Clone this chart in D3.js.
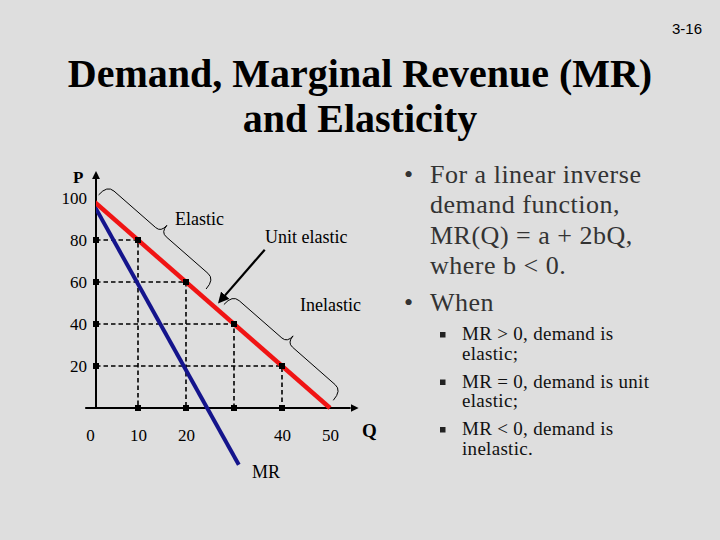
<!DOCTYPE html>
<html>
<head>
<meta charset="utf-8">
<script src="https://cdn.jsdelivr.net/npm/d3@7"></script>
<style>
  html, body { margin: 0; padding: 0; background: #dedede; }
  svg { display: block; }
</style>
</head>
<body>
<div id="wrapper"></div>
<script>
// ---- data ----
const demandQ = [0, 50];
const demandP = [100, 0];
const mrQ = [0, 31];
const mrP = [100, -27];
const guideQ = [10, 20, 30, 40];
const guideP = [80, 60, 40, 20];
const yTickLabels = [100, 80, 60, 40, 20];
const xTickLabels = [0, 10, 20, 40, 50];
const braceNames = ['Elastic', 'Inelastic'];
const braceFrom = [0.7, 26.8];
const braceTo = [23.1, 49.6];
const unitQ = 26;

const mainBullets = [
  ['For a linear inverse', 'demand function,', 'MR(Q) = a + 2bQ,', 'where b < 0.'],
  ['When']
];
const subBullets = [
  ['MR > 0, demand is', 'elastic;'],
  ['MR = 0, demand is unit', 'elastic;'],
  ['MR < 0, demand is', 'inelastic.']
];

const width = 720, height = 540;
const serif = '"Liberation Serif", "Times New Roman", serif';

let svg = d3.select('#wrapper').append('svg')
  .attr('width', width).attr('height', height);

svg.append('rect').attr('width', width).attr('height', height).attr('fill', '#dedede');

// arrow heads
let defs = svg.append('defs');
defs.append('marker').attr('id', 'tri')
  .attr('viewBox', '0 0 10 10').attr('refX', 0).attr('refY', 5)
  .attr('markerWidth', 4).attr('markerHeight', 4).attr('orient', 'auto')
  .attr('markerUnits', 'strokeWidth')
  .append('path').attr('d', 'M0,0 L10,5 L0,10 z').attr('fill', '#000');
defs.append('marker').attr('id', 'tri2')
  .attr('viewBox', '0 0 10 10').attr('refX', 2).attr('refY', 5)
  .attr('markerWidth', 5).attr('markerHeight', 5).attr('orient', 'auto')
  .attr('markerUnits', 'strokeWidth')
  .append('path').attr('d', 'M0,0 L10,5 L0,10 z').attr('fill', '#000');

// ---- header ----
svg.append('text').text('3-16')
  .attr('x', 702).attr('y', 34).attr('text-anchor', 'end')
  .style('font-family', '"Liberation Sans", Arial, sans-serif').style('font-size', '15px');

let title = svg.append('g').attr('text-anchor', 'middle')
  .style('font-family', serif).style('font-weight', 'bold').style('font-size', '40px');
title.append('text').attr('x', 360).attr('y', 87).text('Demand, Marginal Revenue (MR)');
title.append('text').attr('x', 360).attr('y', 132).text('and Elasticity');

// ---- scales ----
let xScale = d3.scaleLinear().domain([0, 50]).range([90, 330]);
let yScale = d3.scaleLinear().domain([0, 100]).range([408, 198]);
let axisX = xScale(0) + 6;

let chart = svg.append('g').classed('chart', true);

// clip so the curves start at the drawn vertical axis
defs.append('clipPath').attr('id', 'plotclip')
  .append('rect').attr('x', axisX).attr('y', 150).attr('width', 300).attr('height', 340);

// dashed guides
let guides = guideQ.map((q, i) => ({q: q, p: guideP[i]}));
chart.selectAll('.guide').data(guides).enter().append('path')
  .classed('guide', true)
  .attr('d', d => 'M' + axisX + ',' + yScale(d.p) + 'H' + xScale(d.q) + 'V' + yScale(0))
  .attr('fill', 'none').attr('stroke', '#000').attr('stroke-width', 1.6)
  .attr('stroke-dasharray', '4.5,3');

// axes lines
chart.append('line')
  .attr('x1', xScale(-1)).attr('x2', xScale(54.3))
  .attr('y1', yScale(0)).attr('y2', yScale(0))
  .attr('stroke', '#000').attr('stroke-width', 2).attr('marker-end', 'url(#tri)');
chart.append('line')
  .attr('x1', axisX).attr('x2', axisX)
  .attr('y1', yScale(0) + 1).attr('y2', yScale(109))
  .attr('stroke', '#000').attr('stroke-width', 2).attr('marker-end', 'url(#tri)');

// tick labels through d3 axes
let yAxis = d3.axisLeft(yScale).tickValues(yTickLabels).tickSize(0).tickPadding(9);
let yG = chart.append('g').attr('transform', 'translate(' + axisX + ',0)').call(yAxis);
let xAxis = d3.axisBottom(xScale).tickValues(xTickLabels).tickSize(0).tickPadding(21);
let xG = chart.append('g').attr('transform', 'translate(0,' + yScale(0) + ')').call(xAxis);
[yG, xG].forEach(g => {
  g.select('.domain').remove();
  g.attr('font-family', null).attr('font-size', null);
  g.selectAll('text').style('font-family', serif).style('font-size', '17px').attr('fill', '#000');
});

chart.append('text').text('P').attr('x', 73).attr('y', 183)
  .style('font-family', serif).style('font-weight', 'bold').style('font-size', '17px');
chart.append('text').text('Q').attr('x', 362).attr('y', 437)
  .style('font-family', serif).style('font-weight', 'bold').style('font-size', '19px');

// curves
let line = d3.line().x(d => xScale(d[0])).y(d => yScale(d[1]));
let curves = chart.append('g').attr('clip-path', 'url(#plotclip)');
curves.append('path').datum(mrQ.map((q, i) => [q, mrP[i]]))
  .attr('d', line).attr('fill', 'none').attr('stroke', '#14148c').attr('stroke-width', 4);
curves.append('path').datum(demandQ.map((q, i) => [q, demandP[i]]))
  .attr('d', line).attr('fill', 'none').attr('stroke', '#f01414').attr('stroke-width', 4.5);

// square markers
let sq = 6;
let marks = [];
guides.forEach(d => {
  marks.push([axisX, yScale(d.p)]);
  marks.push([xScale(d.q), yScale(d.p)]);
  marks.push([xScale(d.q), yScale(0)]);
});
chart.selectAll('.mark').data(marks).enter().append('rect').classed('mark', true)
  .attr('x', d => d[0] - sq / 2).attr('y', d => d[1] - sq / 2)
  .attr('width', sq).attr('height', sq).attr('fill', '#000');

// curly braces along the demand curve
let demandAt = q => 100 - 2 * q;
let p0 = [xScale(0), yScale(100)], p1 = [xScale(50), yScale(0)];
let len = Math.hypot(p1[0] - p0[0], p1[1] - p0[1]);
let u = [(p1[0] - p0[0]) / len, (p1[1] - p0[1]) / len];
let n = [u[1], -u[0]];

function bracePath(qa, qb) {
  let base = 8, w = 22, h = 13, r = 9, rt = 7;
  let a = [xScale(qa), yScale(demandAt(qa))];
  let b = [xScale(qb), yScale(demandAt(qb))];
  let L = Math.hypot(b[0] - a[0], b[1] - a[1]);
  let pt = (s, t) => (a[0] + s * u[0] + (t + base) * n[0]).toFixed(1) + ',' +
                     (a[1] + s * u[1] + (t + base) * n[1]).toFixed(1);
  let m = L / 2;
  return 'M' + pt(0, 0) + 'Q' + pt(0, h) + ' ' + pt(r, h) +
    'L' + pt(m - rt, h) + 'Q' + pt(m, h) + ' ' + pt(m, w) +
    'M' + pt(L, 0) + 'Q' + pt(L, h) + ' ' + pt(L - r, h) +
    'L' + pt(m + rt, h) + 'Q' + pt(m, h) + ' ' + pt(m, w);
}
chart.selectAll('.brace').data(braceNames).enter().append('path').classed('brace', true)
  .attr('d', (d, i) => bracePath(braceFrom[i], braceTo[i]))
  .attr('fill', 'none').attr('stroke', '#000').attr('stroke-width', 1);

// unit elastic arrow
let tip = [xScale(unitQ) + n[0] * 6, yScale(demandAt(unitQ)) + n[1] * 6];
chart.append('line')
  .attr('x1', tip[0] + 46).attr('y1', tip[1] - 53)
  .attr('x2', tip[0] + 5).attr('y2', tip[1] - 5.8)
  .attr('stroke', '#000').attr('stroke-width', 2.2).attr('marker-end', 'url(#tri2)');

// chart labels
let labels = chart.append('g').style('font-family', serif).style('font-size', '18px');
labels.append('text').attr('x', 175).attr('y', 225).text('Elastic');
labels.append('text').attr('x', 265).attr('y', 243).text('Unit elastic');
labels.append('text').attr('x', 300).attr('y', 311).text('Inelastic');
labels.append('text').attr('x', 252).attr('y', 478).text('MR');

// ---- bullet text ----
let notes = svg.append('g').style('font-family', serif);
let yPos = 183;
mainBullets.forEach((lines, i) => {
  notes.append('text').attr('x', 404).attr('y', yPos).text('•')
    .style('font-size', '26px').attr('fill', '#333');
  lines.forEach((t, j) => {
    notes.append('text').attr('x', 430).attr('y', yPos).text(t)
      .style('font-size', '26px').style('letter-spacing', '0.5px').attr('fill', '#333');
    yPos += 30.3;
  });
  yPos += 7;
});

yPos = 340;
subBullets.forEach((lines, i) => {
  notes.append('rect').attr('x', 440).attr('y', yPos - 8).attr('width', 5.5).attr('height', 5.5)
    .attr('fill', '#222');
  lines.forEach((t, j) => {
    notes.append('text').attr('x', 462).attr('y', yPos).text(t)
      .style('font-size', '19px').style('letter-spacing', '0.3px').attr('fill', '#111');
    yPos += 19.5;
  });
  yPos += 8.5;
});
</script>
</body>
</html>
